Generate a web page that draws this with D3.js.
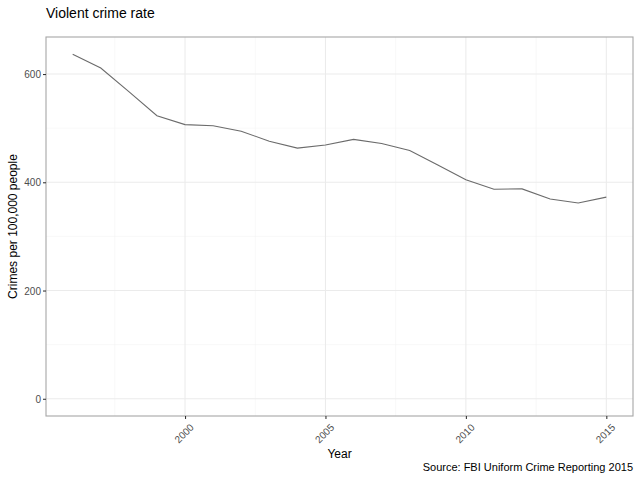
<!DOCTYPE html>
<html><head><meta charset="utf-8">
<script src="https://cdn.jsdelivr.net/npm/d3@7"></script>
<style>body{margin:0;background:#fff}svg{display:block}text{font-family:"Liberation Sans",Arial,sans-serif}</style>
</head><body>
<svg id="c" width="640" height="480"></svg>
<script>
const years = [1996,1997,1998,1999,2000,2001,2002,2003,2004,2005,2006,2007,2008,2009,2010,2011,2012,2013,2014,2015];
const rates = [636.6,611.0,567.6,523.0,506.5,504.5,494.4,475.8,463.2,469.0,479.3,471.8,458.6,431.9,404.5,387.1,387.8,369.1,361.6,372.6];
const xTicks = [2000,2005,2010,2015];
const xMinor = [1997.5,2002.5,2007.5,2012.5];
const yTicks = [0,200,400,600];
const yMinor = [100,300,500];
const titleText = "Violent crime rate";
const xTitle = "Year";
const yTitle = "Crimes per 100,000 people";
const caption = "Source: FBI Uniform Crime Reporting 2015";

const svg = d3.select("#c");
const L = 46, R = 633, T = 37, B = 416;
const x = d3.scaleLinear().domain([1995.05, 2015.95]).range([L, R]);
const y = d3.scaleLinear().domain([-31.83, 668.43]).range([B, T]);

const g = svg.append("g");
g.selectAll(".xm").data(xMinor).join("line").attr("x1", d=>x(d)).attr("x2", d=>x(d)).attr("y1", T).attr("y2", B).attr("stroke", "#f2f2f2").attr("stroke-width", 0.55);
g.selectAll(".ym").data(yMinor).join("line").attr("y1", d=>y(d)).attr("y2", d=>y(d)).attr("x1", L).attr("x2", R).attr("stroke", "#f2f2f2").attr("stroke-width", 0.55);
g.selectAll(".xg").data(xTicks).join("line").attr("x1", d=>x(d)).attr("x2", d=>x(d)).attr("y1", T).attr("y2", B).attr("stroke", "#ebebeb").attr("stroke-width", 1.07);
g.selectAll(".yg").data(yTicks).join("line").attr("y1", d=>y(d)).attr("y2", d=>y(d)).attr("x1", L).attr("x2", R).attr("stroke", "#ebebeb").attr("stroke-width", 1.07);

const line = d3.line().x((d,i)=>x(years[i])).y(d=>y(d));
svg.append("path").datum(rates).attr("d", line).attr("fill", "none").attr("stroke", "#6b6b6b").attr("stroke-width", 1.1);

svg.append("rect").attr("x", L).attr("y", T).attr("width", R-L).attr("height", B-T).attr("fill", "none").attr("stroke", "#a6a6a6").attr("stroke-width", 1.1);

// axes
const xa = svg.append("g").attr("transform", `translate(0,${B})`).call(d3.axisBottom(x).tickValues(xTicks).tickFormat(d3.format("d")).tickSize(3).tickSizeOuter(0));
xa.select(".domain").remove();
xa.selectAll(".tick line").attr("stroke", "#333").attr("stroke-width", 1.07);
xa.selectAll(".tick text").attr("fill", "#4d4d4d").attr("font-size", "10px").attr("text-anchor", "end")
  .attr("y", 0).attr("dy", null).attr("transform", "translate(4,7) rotate(-45)").attr("dy", "0.71em");

const ya = svg.append("g").attr("transform", `translate(${L},0)`).call(d3.axisLeft(y).tickValues(yTicks).tickSize(3).tickSizeOuter(0));
ya.select(".domain").remove();
ya.selectAll(".tick line").attr("stroke", "#333").attr("stroke-width", 1.07);
ya.selectAll(".tick text").attr("fill", "#4d4d4d").attr("font-size", "10px").attr("x", -5).attr("dy", "0.35em");

svg.append("text").attr("x", L).attr("y", 17.5).attr("font-size", "14px").attr("fill", "#000").text(titleText);
svg.append("text").attr("x", (L+R)/2).attr("y", 457.5).attr("text-anchor", "middle").attr("font-size", "12px").attr("fill", "#000").text(xTitle);
svg.append("text").attr("transform", `translate(17,${(T+B)/2}) rotate(-90)`).attr("text-anchor", "middle").attr("font-size", "12px").attr("fill", "#000").text(yTitle);
svg.append("text").attr("x", R).attr("y", 471).attr("text-anchor", "end").attr("font-size", "11px").attr("fill", "#000").text(caption);
</script>
</body></html>
